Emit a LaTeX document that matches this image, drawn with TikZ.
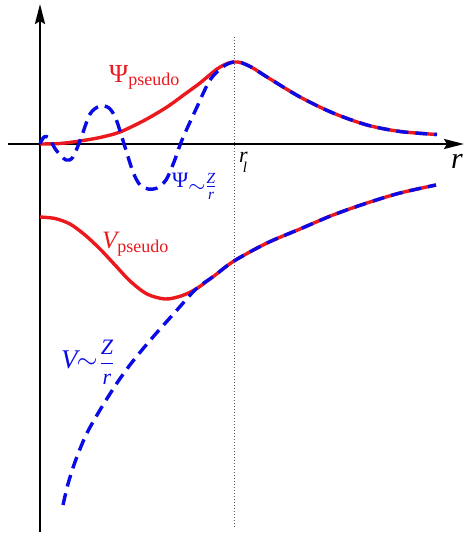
\RequirePackage{fix-cm}
\documentclass[tikz,border=0pt]{standalone}
\usepackage{amsmath}
\usepackage{fontspec}
\setmainfont{Liberation Serif}
\usetikzlibrary{arrows.meta}
\definecolor{cred}{RGB}{235,25,30}
\definecolor{cblue}{RGB}{10,10,230}
\tikzset{
  axisline/.style={line width=2.6pt,-{Stealth[length=20pt,width=10pt,inset=3pt]}},
  redline/.style={cred,line width=3.4pt},
  bluedash/.style={cblue,line width=3.4pt,dash pattern=on 12pt off 7pt},
  lbl/.style={inner sep=0pt,anchor=base west}
}
\begin{document}
\begin{tikzpicture}[x=1pt,y=-1pt]
\useasboundingbox (0,0) rectangle (474,540);
% axes
\coordinate (ybot) at (40,532);
\coordinate (ytop) at (40,4);
\coordinate (xleft) at (8,144);
\coordinate (xright) at (464,144);
\coordinate (dtop) at (234,37);
\coordinate (dbot) at (234,528);
\draw[gray!70!black,line width=1pt,dotted] (dtop) -- (dbot);
\draw[axisline] (ybot) -- (ytop);
\draw[axisline] (xleft) -- (xright);
% Psi pseudo (red)
\draw[redline] plot[smooth] coordinates {(40,144) (60,143.5) (80,141) (100,137.5) (120,132) (145,120) (167,107) (185,94) (200,83) (217,69) (228,63.2) (234,62) (241,62.6) (252,67.5) (267,77) (300,97) (333,113) (367,125) (400,131.5) (437,134.5)};
% Psi ~Z/r (blue dashed)
\draw[bluedash] plot[smooth] coordinates {(40,144) (44,137) (49,138) (56,150) (66,160) (73,157) (81,138) (90,114) (100,106) (109,108) (116,119) (125,147) (133,172) (140,185) (148,189) (157,188) (166,180) (174,162) (182,140) (197,107) (210,80) (224,66) (234,62) (241,62.6) (252,67.5) (267,77) (300,97) (333,113) (367,125) (400,131.5) (437,134.5)};
% V pseudo (red)
\draw[redline] plot[smooth] coordinates {(40,217) (55,218.5) (70,224) (85,235) (100,249) (115,265) (130,281) (147,294) (165,299) (181,296) (196,289) (214,276) (234,261) (267,243) (300,229) (333,215) (367,203) (400,193) (436,185)};
% V ~Z/r (blue dashed)
\draw[bluedash] plot[smooth] coordinates {(63,505) (68,484) (75,462) (86,435) (100,410) (117,383) (133,361) (153,337) (177,310) (196,289) (214,276) (234,261) (267,243) (300,229) (333,215) (367,203) (400,193) (436,185)};
% labels
\node[lbl,text=cred] (psip) at (109,83) {\fontsize{26}{30}\selectfont Ψ\raisebox{-3pt}{\fontsize{18}{20}\selectfont pseudo}};
\node[lbl,text=cblue] (psiz) at (172,187) {\fontsize{22}{25}\selectfont Ψ\raisebox{-5pt}{$\sim$}\raisebox{-5pt}{$\frac{\text{\itshape Z}}{\text{\itshape r}}$}};
\node[lbl,text=cred] (vp) at (102,248) {\fontsize{25}{30}\selectfont\itshape V\raisebox{-4pt}{\fontsize{18}{20}\selectfont\upshape pseudo}};
\node[lbl,text=cblue] (vz) at (61,368) {\fontsize{27}{30}\selectfont\itshape V\hspace{-1pt}$\sim$\hspace{2pt}\raisebox{-1pt}{\fontsize{22}{26}\selectfont$\dfrac{\text{\itshape Z}}{\text{\itshape r}}$}};
\node[lbl] (rl) at (239,162) {\fontsize{22}{26}\selectfont\itshape r\hspace{-5pt}\raisebox{-10pt}{\fontsize{15}{18}\selectfont l}};
\node[lbl] (rax) at (451,168) {\fontsize{30}{34}\selectfont\itshape r};
\end{tikzpicture}
\end{document}
